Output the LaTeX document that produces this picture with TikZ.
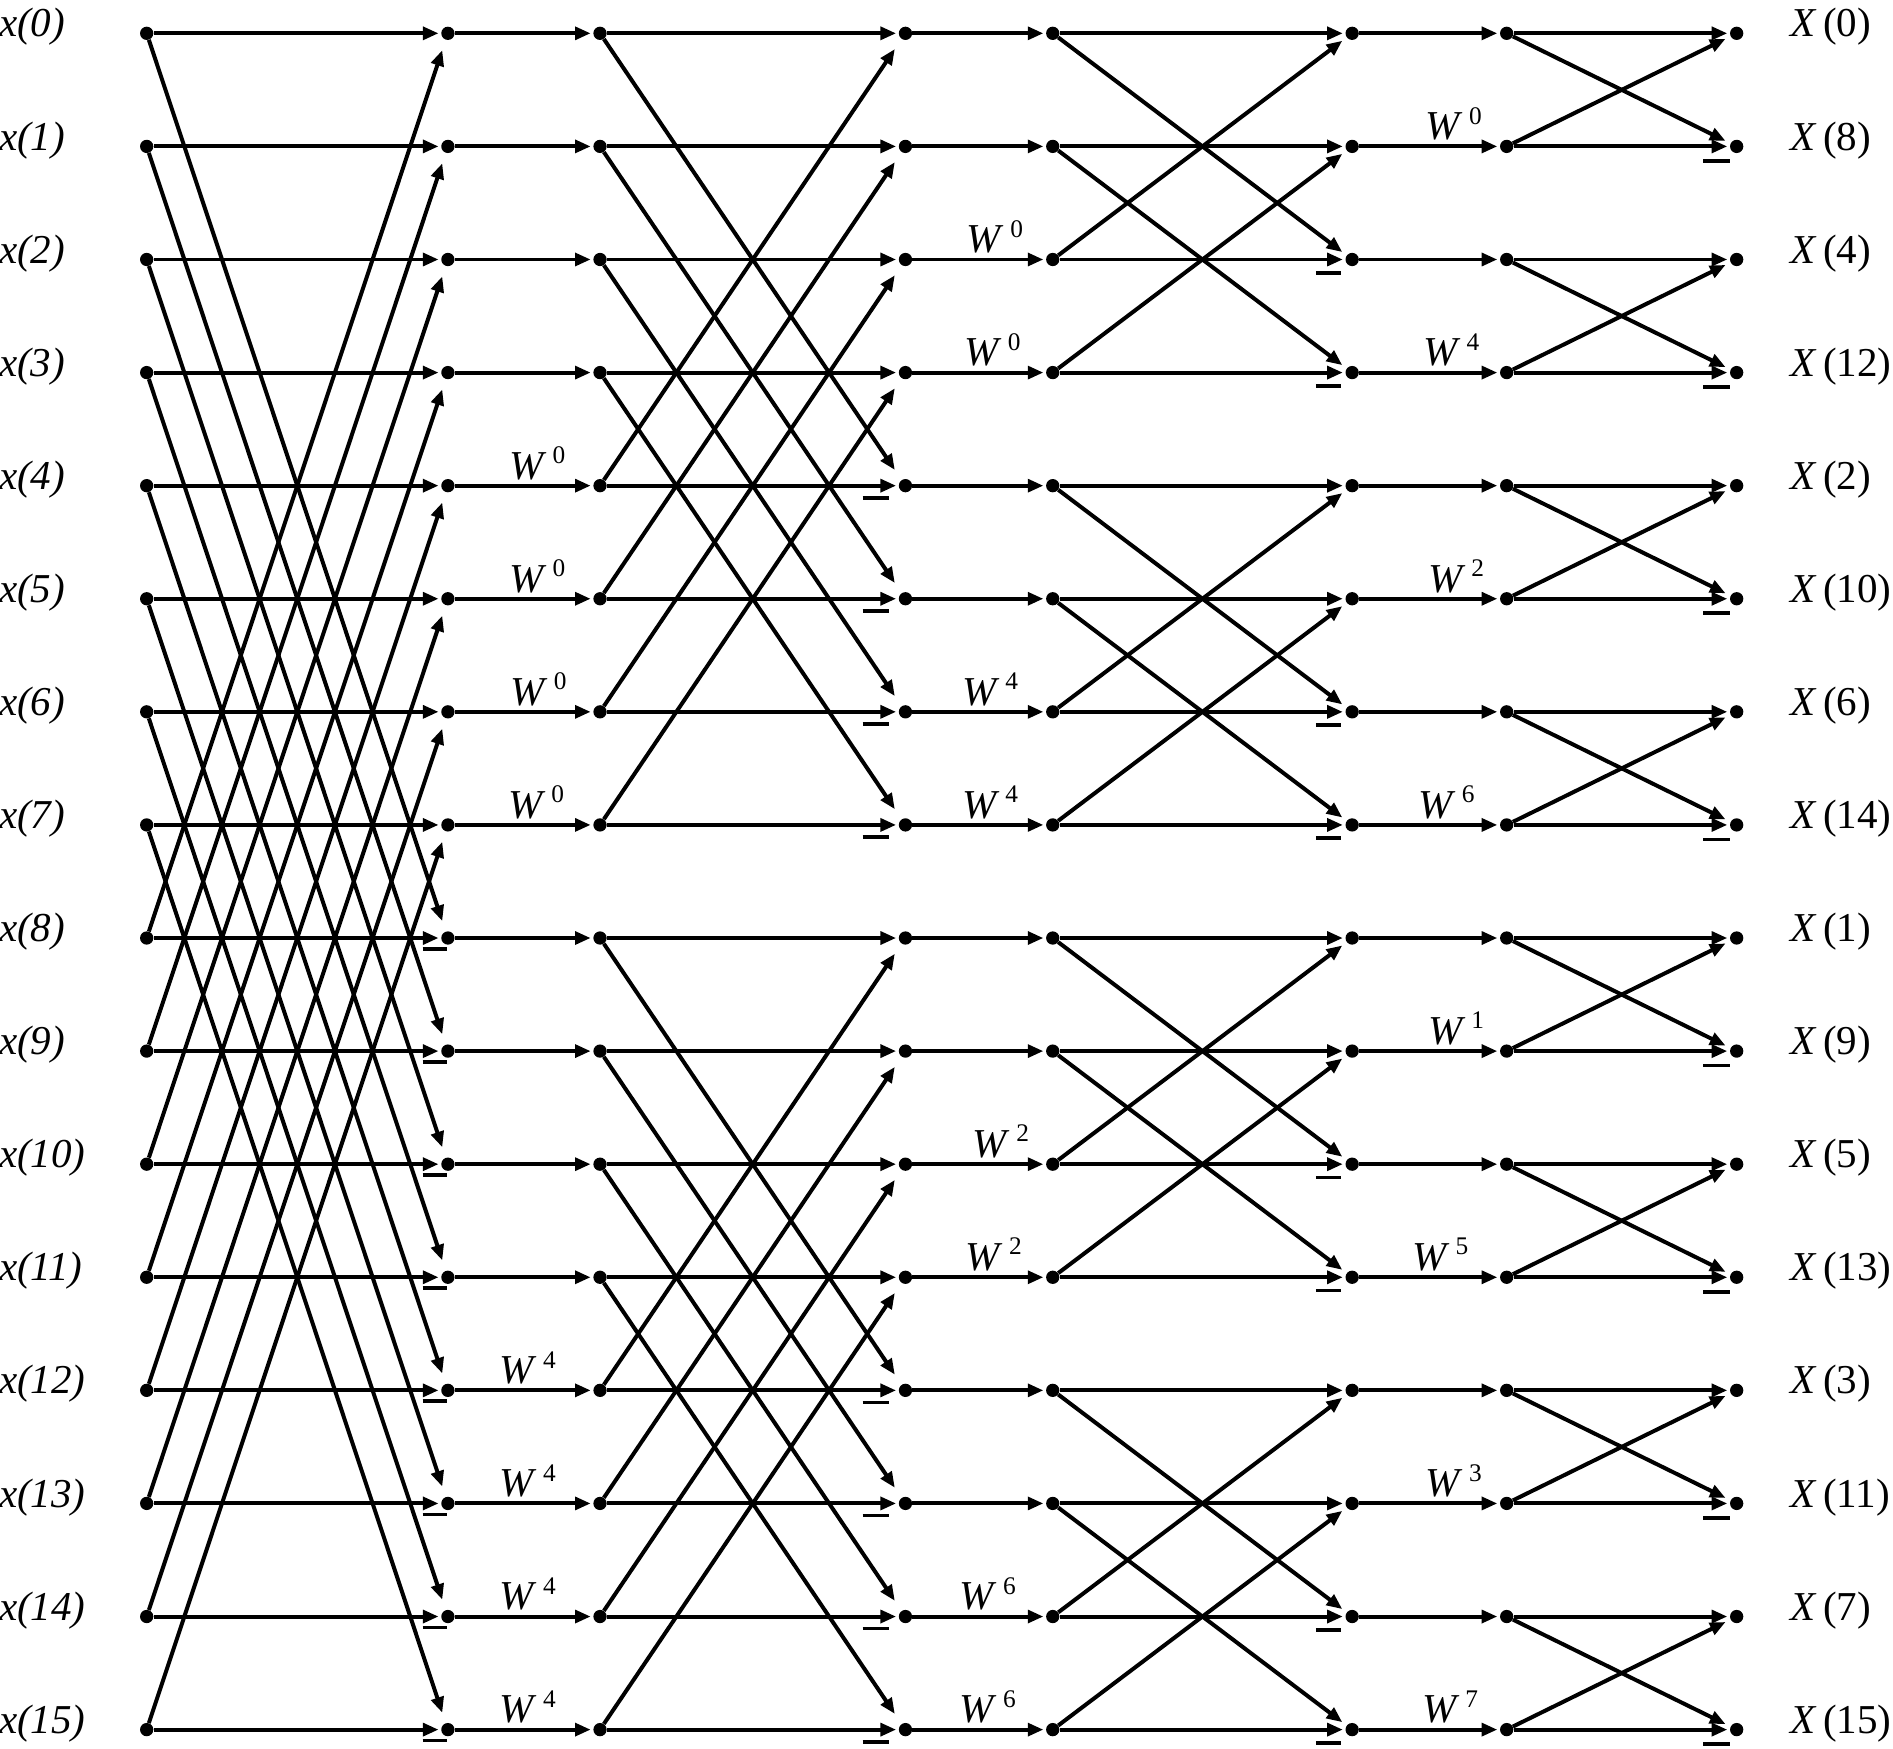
\documentclass[tikz,border=0pt]{standalone}
\usepackage{fontspec}
\setmainfont{Liberation Serif}
\usetikzlibrary{arrows.meta}
\newcommand\Wk[1]{\textit{W}\kern5pt\raisebox{13pt}{\fontsize{21}{21}\selectfont #1}}
\begin{document}
\begin{tikzpicture}[x=1pt,y=-1pt,
  dot/.style={circle,fill=black,draw=none,inner sep=0pt,minimum size=11pt},
  wire/.style={line width=3.3pt,-{Triangle[length=13pt,width=10.5pt]}},
  hwire/.style={wire,shorten >=2pt},
  dwireA/.style={wire,shorten >=9pt},
  dwireB/.style={wire,shorten >=10pt},
  dwireC/.style={wire,shorten >=4.5pt},
  dwireD/.style={wire,shorten >=4.5pt},
  negbar/.style={line width=3pt},
  inlab/.style={anchor=base west,inner sep=0pt,font=\fontsize{34}{37}\selectfont\itshape},
  outlab/.style={anchor=base west,inner sep=0pt,font=\fontsize{34}{38}\selectfont},
  wlab/.style={anchor=base west,inner sep=0pt,font=\fontsize{34}{38}\selectfont},
]
\useasboundingbox (0,0) rectangle (1568,1448);
% nodes
\foreach \c/\cx in {0/121.5,1/371,2/497,3/750,4/872,5/1120,6/1248,7/1438.5}{
  \foreach \r in {0,...,15}{
    \node[dot] (n\c-\r) at (\cx,{27.6+93.67*\r}) {};
  }
}
% horizontal wires
\foreach \c in {0,...,6}{
  \pgfmathtruncatemacro\cn{\c+1}
  \foreach \r in {0,...,15}{\draw[hwire] (n\c-\r) -- (n\cn-\r);}
}
% stage 1
\foreach \r in {0,...,7}{
  \pgfmathtruncatemacro\s{\r+8}
  \draw[dwireA] (n0-\r) -- (n1-\s);
  \draw[dwireA] (n0-\s) -- (n1-\r);
}
% stage 2
\foreach \r in {0,1,2,3,8,9,10,11}{
  \pgfmathtruncatemacro\s{\r+4}
  \draw[dwireB] (n2-\r) -- (n3-\s);
  \draw[dwireB] (n2-\s) -- (n3-\r);
}
% stage 3
\foreach \r in {0,1,4,5,8,9,12,13}{
  \pgfmathtruncatemacro\s{\r+2}
  \draw[dwireC] (n4-\r) -- (n5-\s);
  \draw[dwireC] (n4-\s) -- (n5-\r);
}
% stage 4
\foreach \r in {0,2,...,14}{
  \pgfmathtruncatemacro\s{\r+1}
  \draw[dwireD] (n6-\r) -- (n7-\s);
  \draw[dwireD] (n6-\s) -- (n7-\r);
}
% input labels
\foreach \r in {0,...,15}{
  \node[inlab] (xin\r) at (-1,{27.6+93.67*\r+3}) {x(\r)};
}
% output labels
\foreach \r/\k in {0/0,1/8,2/4,3/12,4/2,5/10,6/6,7/14,8/1,9/9,10/5,11/13,12/3,13/11,14/7,15/15}{
  \node[outlab] (Xout\r) at (1483,{27.6+93.67*\r+3}) {\textit{X}\kern5pt(\k)};
}
% minus signs
\foreach \r in {8,...,15}{
  \draw[negbar] (350,{27.6+93.67*\r+9}) -- (370,{27.6+93.67*\r+9});
}
\foreach \r in {4,5,6,7,12,13,14,15}{
  \draw[negbar] (714.5,{27.6+93.67*\r+10}) -- (736,{27.6+93.67*\r+10});
}
\foreach \r in {2,3,6,7,10,11,14,15}{
  \draw[negbar] (1090,{27.6+93.67*\r+11}) -- (1111,{27.6+93.67*\r+11});
}
\foreach \r in {1,3,...,15}{
  \draw[negbar] (1411,{27.6+93.67*\r+12}) -- (1433,{27.6+93.67*\r+12});
}
% twiddle labels
\foreach \r/\e/\wx in {4/0/424,5/0/424,6/0/425,7/0/423,12/4/416,13/4/416,14/4/416,15/4/416}{
  \node[wlab] (wA\r) at ({\wx-2.3},{27.6+93.67*\r-5.5}) {\Wk{\e}};
}
\foreach \r/\e/\wx in {2/0/803,3/0/801,6/4/799,7/4/799,10/2/808,11/2/802,14/6/797,15/6/797}{
  \node[wlab] (wB\r) at ({\wx-2.3},{27.6+93.67*\r-5.5}) {\Wk{\e}};
}
\foreach \r/\e/\wx in {1/0/1183,3/4/1181,5/2/1185,7/6/1177,9/1/1185,11/5/1172,13/3/1183,15/7/1180}{
  \node[wlab] (wC\r) at ({\wx-2.3},{27.6+93.67*\r-5.5}) {\Wk{\e}};
}
\end{tikzpicture}
\end{document}
